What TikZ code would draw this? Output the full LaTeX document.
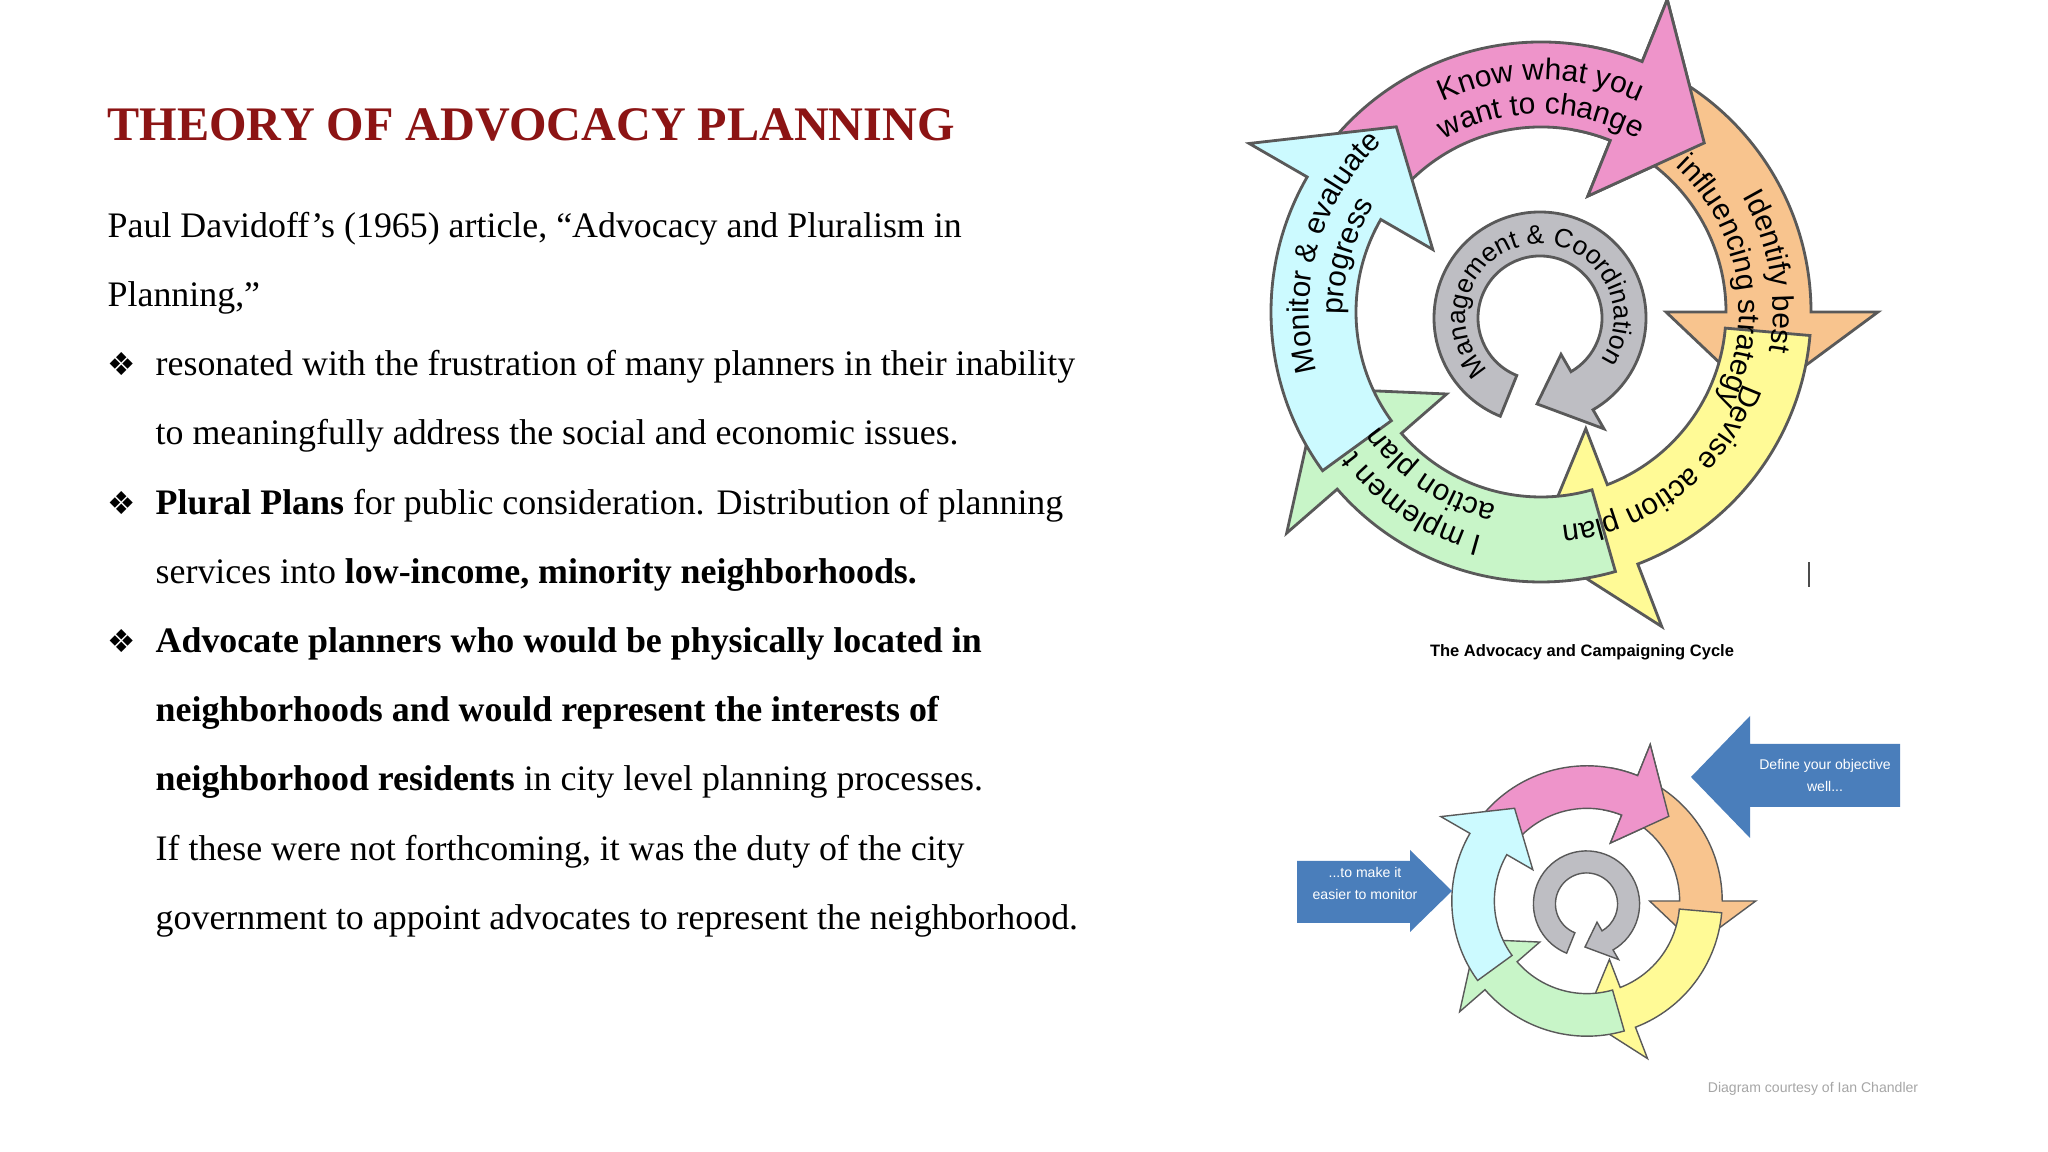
\documentclass[tikz,border=0pt]{standalone}
\usepackage{fontspec}
\setmainfont{Liberation Serif}
\newfontfamily\arialf{Liberation Sans}
\newfontfamily\dejavu{DejaVu Sans}
\usetikzlibrary{decorations.text}
\definecolor{titlered}{RGB}{140,20,20}
\definecolor{cpink}{RGB}{238,148,202}
\definecolor{corange}{RGB}{248,196,142}
\definecolor{cyellow}{RGB}{255,250,150}
\definecolor{cgreen}{RGB}{200,245,200}
\definecolor{cblue}{RGB}{204,250,255}
\definecolor{cgray}{RGB}{190,190,195}
\definecolor{arrblue}{RGB}{74,126,187}
\newcommand\cyarr[4]{%
 \pgfmathsetmacro\tipang{#2-22}%
 \filldraw[fill=#3,draw=black!65,line width=#4] (#1:185) arc[start angle=#1,end angle=#2,radius=185] -- (#2:125) -- (\tipang:235) -- (#2:337) -- (#2:270) arc[start angle=#2,end angle=#1,radius=270] -- cycle;}
\newcommand\cytext[4]{%
 \pgfmathsetmacro\tsa{#2+#3}\pgfmathsetmacro\tea{#2-#3}%
 \path[decorate,decoration={text along path,text align=center,text={|\cyfs|#4}}] (\tsa:#1) arc[start angle=\tsa,end angle=\tea,radius=#1];}
\newcommand\drawcycle[6]{% x,y,unit,fontsize,linewidth,withtext
 \begin{scope}[shift={(#1,#2)},x=#3,y=#3]
  \def\cyfs{\arialf\fontsize{#4}{#4}\selectfont}%
  \cyarr{145}{68}{cpink}{#5}
  \cyarr{63}{0}{corange}{#5}
  \cyarr{-5}{-69}{cyellow}{#5}
  \cyarr{-74}{-139}{cgreen}{#5}
  \cyarr{216}{150}{cblue}{#5}
  \fill[cpink] (80:270) arc[start angle=80,end angle=68,radius=270] -- (68:337) -- (46:235) -- (68:125) -- (68:185) arc[start angle=68,end angle=80,radius=185] -- cycle;
  \draw[draw=black!65,line width=#5] (80:270) arc[start angle=80,end angle=68,radius=270] -- (68:337) -- (46:235) -- (68:125) -- (68:185) arc[start angle=68,end angle=80,radius=185];
  \begin{scope}[shift={(-1,-6)}]
   \filldraw[fill=cgray,draw=black!65,line width=#5] (248:62) arc[start angle=248,end angle=-60,radius=62] -- (-60:42) -- (-92:86) -- (-60:128) -- (-60:106) arc[start angle=-60,end angle=248,radius=106] -- cycle;
   \ifnum#6=1
   \def\cyfs{\arialf\fontsize{7.5}{7.5}\selectfont}%
   \cytext{74}{95}{150}{Management {\&} Coordination}
   \fi
  \end{scope}
  \ifnum#6=1
  \cytext{232}{90}{80}{Know what you}
  \cytext{198}{90}{80}{want to change}
  \cytext{232}{10}{80}{Identify best}
  \cytext{198}{10}{80}{influencing strategy}
  \cytext{215}{-52}{80}{Devise action plan}
  \cytext{232}{-124}{80}{I mplemen t}
  \cytext{198}{-124}{80}{action plan}
  \cytext{232}{164}{80}{Monitor {\&} evaluate}
  \cytext{198}{164}{80}{progress}
  \fi
 \end{scope}}
\tikzset{bodyline/.style={anchor=base west,inner sep=0pt},
 bul/.style={anchor=base west,inner sep=0pt,font=\dejavu\fontsize{9}{10}\selectfont},
 whitetxt/.style={text=white,font=\arialf\fontsize{4}{5}\selectfont,inner sep=0pt}}
\begin{document}
\begin{tikzpicture}[x=0.01cm,y=0.01cm,font=\fontsize{10.2}{12}\selectfont]
\useasboundingbox[fill=white] (0,0) rectangle (2048,1152);
\node[bodyline,text=titlered,font=\bfseries\fontsize{13.7}{15}\selectfont] (title) at (107,1011) {THEORY OF ADVOCACY PLANNING};
\node[bodyline] (l1) at (107,914) {Paul Davidoff's (1965) article, “Advocacy and Pluralism in};
\node[bodyline] (l2) at (107,845) {Planning,”};
\node[bul] (b1) at (107,776) {❖};
\node[bodyline] (l3) at (155,776) {resonated with the frustration of many planners in their inability};
\node[bodyline] (l4) at (155,707) {to meaningfully address the social and economic issues.};
\node[bul] (b2) at (107,637) {❖};
\node[bodyline] (l5) at (155,637) {\textbf{Plural Plans} for public consideration. Distribution of planning};
\node[bodyline] (l6) at (155,568) {services into \textbf{low-income, minority neighborhoods.}};
\node[bul] (b3) at (107,499) {❖};
\node[bodyline] (l7) at (155,499) {\textbf{Advocate planners who would be physically located in}};
\node[bodyline] (l8) at (155,430) {\textbf{neighborhoods and would represent the interests of}};
\node[bodyline] (l9) at (155,361) {\textbf{neighborhood residents} in city level planning processes.};
\node[bodyline] (l10) at (155,291) {If these were not forthcoming, it was the duty of the city};
\node[bodyline] (l11) at (155,222) {government to appoint advocates to represent the neighborhood.};
% big cycle
\drawcycle{1541}{840}{0.01cm}{8.5}{0.8pt}{1}
\node[font=\arialf\bfseries\fontsize{4.7}{5}\selectfont,anchor=base,inner sep=0pt] (cap) at (1582,495) {The Advocacy and Campaigning Cycle};
\draw[black!70,line width=0.6pt] (1809,565) -- (1809,590);
% small cycle
\drawcycle{1587}{251}{0.005cm}{4.25}{0.4pt}{0}
\fill[arrblue] (1900,345) -- (1750,345) -- (1750,314) -- (1691,375) -- (1750,436) -- (1750,408) -- (1900,408) -- cycle;
\node[whitetxt] (d1) at (1825,386) {Define your objective};
\node[whitetxt] (d2) at (1825,366) {well...};
\fill[arrblue] (1297,229) -- (1410,229) -- (1410,220) -- (1452,261) -- (1410,302) -- (1410,291) -- (1297,291) -- cycle;
\node[whitetxt] (m1) at (1365,280) {...to make it};
\node[whitetxt] (m2) at (1365,258) {easier to monitor};
\node[text=black!35,font=\arialf\fontsize{4}{5}\selectfont,inner sep=0pt] (court) at (1813,63) {Diagram courtesy of Ian Chandler};
\end{tikzpicture}
\end{document}
